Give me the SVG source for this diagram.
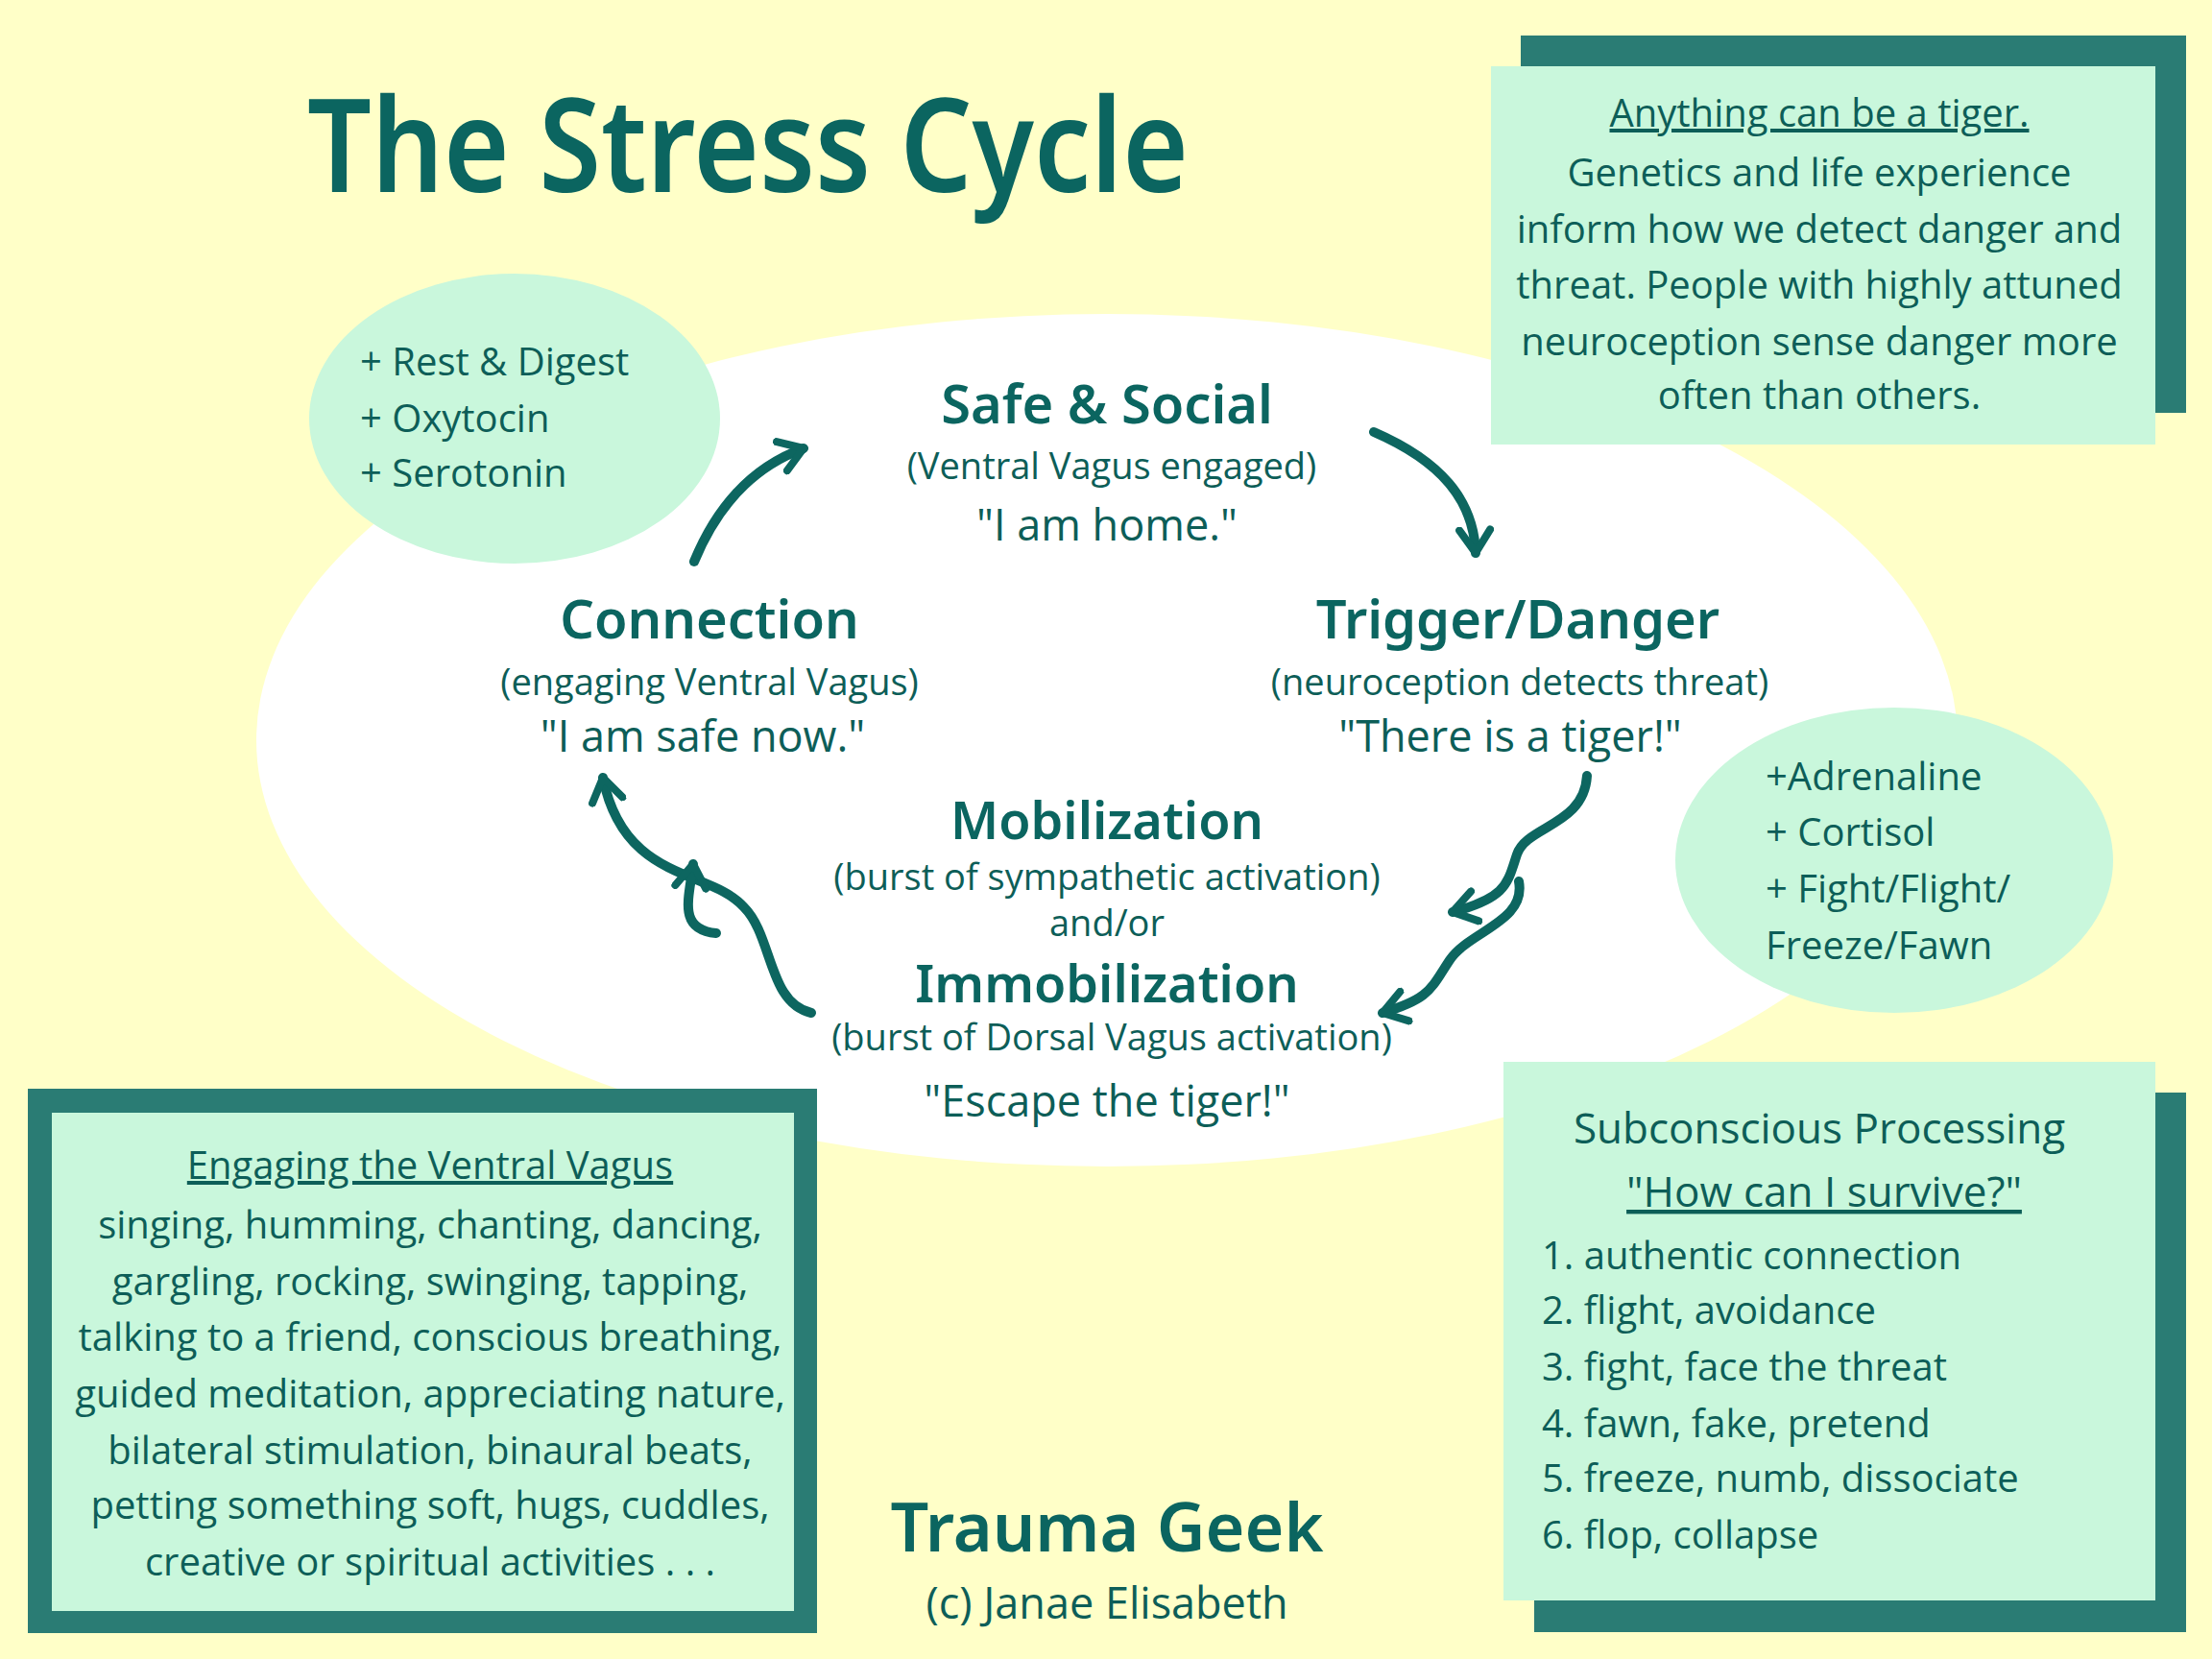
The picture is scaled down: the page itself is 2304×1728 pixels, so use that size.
<svg xmlns="http://www.w3.org/2000/svg" width="2304" height="1728" viewBox="0 0 2304 1728">
<style>
.b{font-family:"Open Sans","Liberation Sans",sans-serif;fill:#0d5e58;font-size:40px}
.h{font-family:"Noto Sans","Liberation Sans",sans-serif;fill:#0b6560;font-weight:600;font-size:56px}
.c{text-anchor:middle}
.dark{fill:#2a7c74}
.light{fill:#c9f7dc}
.ar{fill:none;stroke:#0d6660;stroke-width:10;stroke-linecap:round}
</style>
<defs>
<marker id="ah" viewBox="0 0 10 10" refX="7" refY="5" markerWidth="4" markerHeight="4" orient="auto" markerUnits="strokeWidth">
<polyline points="1,1 7,5 1,9" fill="none" stroke="#0d6660" stroke-width="2" stroke-linecap="round" stroke-linejoin="round"/>
</marker>
</defs>
<rect width="2304" height="1728" fill="#ffffc8"/>
<ellipse cx="1153" cy="771" rx="886" ry="444" fill="#ffffff"/>
<text class="h c" x="779" y="200" style="font-size:135px" textLength="918" lengthAdjust="spacingAndGlyphs">The Stress Cycle</text>

<g id="restDigest">
<ellipse cx="536" cy="436" rx="214" ry="151" class="light"/>
<text class="b" x="375" y="391">+ Rest &amp; Digest</text>
<text class="b" x="375" y="450">+ Oxytocin</text>
<text class="b" x="375" y="507">+ Serotonin</text>
</g>
<g id="adrenaline">
<ellipse cx="1973" cy="896" rx="228" ry="159" class="light"/>
<text class="b" x="1839" y="823">+Adrenaline</text>
<text class="b" x="1839" y="881">+ Cortisol</text>
<text class="b" x="1839" y="940">+ Fight/Flight/</text>
<text class="b" x="1839" y="999">Freeze/Fawn</text>
</g>
<g id="tiger">
<rect x="1584" y="37" width="693" height="393" class="dark"/>
<rect x="1553" y="69" width="692" height="394" class="light"/>
<text class="b c" x="1895" y="132" text-decoration="underline">Anything can be a tiger.</text>
<text class="b c" x="1895" y="194">Genetics and life experience</text>
<text class="b c" x="1895" y="253">inform how we detect danger and</text>
<text class="b c" x="1895" y="311">threat. People with highly attuned</text>
<text class="b c" x="1895" y="370">neuroception sense danger more</text>
<text class="b c" x="1895" y="426">often than others.</text>
</g>
<g id="engaging">
<rect x="29" y="1134" width="822" height="567" class="dark"/>
<rect x="54" y="1159" width="773" height="519" class="light"/>
<text class="b c" x="448" y="1228" text-decoration="underline">Engaging the Ventral Vagus</text>
<text class="b c" x="448" y="1290">singing, humming, chanting, dancing,</text>
<text class="b c" x="448" y="1349">gargling, rocking, swinging, tapping,</text>
<text class="b c" x="448" y="1407">talking to a friend, conscious breathing,</text>
<text class="b c" x="448" y="1466">guided meditation, appreciating nature,</text>
<text class="b c" x="448" y="1525">bilateral stimulation, binaural beats,</text>
<text class="b c" x="448" y="1582">petting something soft, hugs, cuddles,</text>
<text class="b c" x="448" y="1641">creative or spiritual activities . . .</text>
</g>
<g id="subconscious">
<rect x="1598" y="1138" width="679" height="562" class="dark"/>
<rect x="1566" y="1106" width="679" height="561" class="light"/>
<text class="b c" x="1895" y="1191" style="font-size:44px">Subconscious Processing</text>
<text class="b c" x="1900" y="1257" style="font-size:44px" text-decoration="underline">"How can I survive?"</text>
<text class="b" x="1606" y="1322">1. authentic connection</text>
<text class="b" x="1606" y="1379">2. flight, avoidance</text>
<text class="b" x="1606" y="1438">3. fight, face the threat</text>
<text class="b" x="1606" y="1497">4. fawn, fake, pretend</text>
<text class="b" x="1606" y="1554">5. freeze, numb, dissociate</text>
<text class="b" x="1606" y="1613">6. flop, collapse</text>
</g>
<g id="safe">
<text class="h c" x="1153" y="441">Safe &amp; Social</text>
<text class="b c" x="1158" y="499" style="font-size:38px">(Ventral Vagus engaged)</text>
<text class="b c" x="1153" y="563" style="font-size:45px">"I am home."</text>
</g>
<g id="connection">
<text class="h c" x="739" y="665">Connection</text>
<text class="b c" x="739" y="724" style="font-size:38px">(engaging Ventral Vagus)</text>
<text class="b c" x="732" y="783" style="font-size:45px">"I am safe now."</text>
</g>
<g id="trigger">
<text class="h c" x="1581" y="665">Trigger/Danger</text>
<text class="b c" x="1583" y="724" style="font-size:38px">(neuroception detects threat)</text>
<text class="b c" x="1573" y="783" style="font-size:45px">"There is a tiger!"</text>
</g>
<g id="mobilization">
<text class="h c" x="1153" y="874" style="font-size:54px">Mobilization</text>
<text class="b c" x="1153" y="927" style="font-size:38px">(burst of sympathetic activation)</text>
<text class="b c" x="1153" y="975" style="font-size:38px">and/or</text>
<text class="h c" x="1153" y="1044" style="font-size:54px">Immobilization</text>
<text class="b c" x="1158" y="1094" style="font-size:38px">(burst of Dorsal Vagus activation)</text>
<text class="b c" x="1153" y="1163" style="font-size:45px">"Escape the tiger!"</text>
</g>
<g id="footer">
<text class="h c" x="1153" y="1616" style="font-size:70px">Trauma Geek</text>
<text class="b c" x="1153" y="1686" style="font-size:45px">(c) Janae Elisabeth</text>
</g>
<g id="connectors">
<path class="ar" marker-end="url(#ah)" d="M723,585 Q760,495 837,467"/>
<path class="ar" marker-end="url(#ah)" d="M1431,450 C1500,480 1535,520 1537,576"/>
<path class="ar" marker-end="url(#ah)" d="M1653,808 C1650,860 1590,860 1580,890 S1570,935 1513,950"/>
<path class="ar" marker-end="url(#ah)" d="M1582,918 C1590,960 1530,970 1510,1000 S1490,1040 1440,1055"/>
<path class="ar" marker-end="url(#ah)" d="M845,1055 C800,1045 805,975 775,945 C740,905 650,920 628,810"/>
<path class="ar" marker-end="url(#ah)" d="M746,972 C705,968 718,935 722,900"/>
</g>
</svg>
